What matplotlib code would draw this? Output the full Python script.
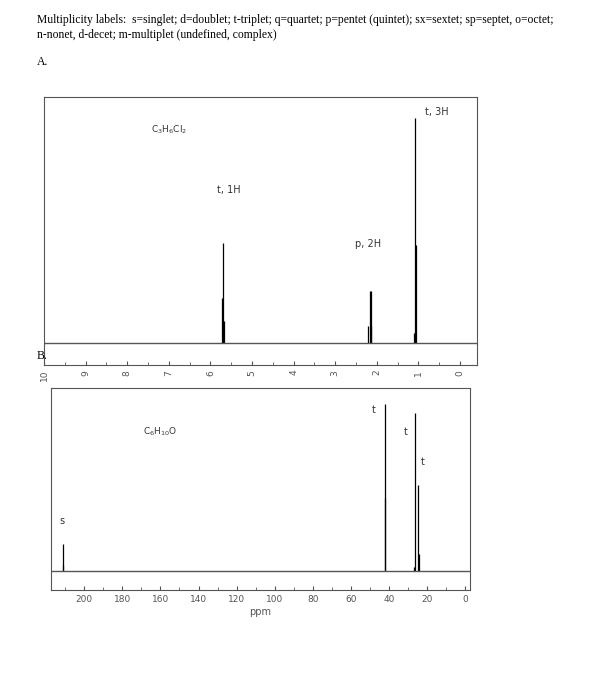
import matplotlib.pyplot as plt

# Panel A: 1H NMR of C3H6Cl2 (heights in arbitrary units above baseline)
a_shift = [5.73, 5.70, 5.68, 2.20, 2.17, 2.15, 2.13, 1.11, 1.08, 1.06]
a_height = [45, 100, 22, 17, 52, 52, 17, 10, 225, 98]
a_labels = ["t, 1H", "p, 2H", "t, 3H"]
a_label_pos = [(5.55, 150), (2.2, 96), (0.55, 228)]

# Panel B: 13C NMR of C6H10O
b_shift = [211.0, 211.3, 42.0, 42.3, 26.5, 27.0, 24.5, 24.2]
b_height = [85, 20, 528, 230, 500, 15, 272, 55]
b_labels = ["s", "t", "t", "t"]
b_label_pos = [(212, 150), (48, 500), (31, 430), (22, 335)]

header = ("Multiplicity labels:  s=singlet; d=doublet; t-triplet; q=quartet; p=pentet (quintet); sx=sextet; sp=septet, o=octet;\n"
          "n-nonet, d-decet; m-multiplet (undefined, complex)")

W, H = 602, 700
fig = plt.figure(figsize=(W / 100, H / 100), dpi=100)
serif = ["Liberation Serif", "DejaVu Serif"]
fig.text(37 / W, 1 - 14 / H, header, fontsize=8.4, family=serif, va="top", linespacing=1.35)
fig.text(37 / W, 1 - 62 / H, "A.", fontsize=8.5, family=serif, va="center")
fig.text(37 / W, 1 - 356 / H, "B.", fontsize=8.5, family=serif, va="center")

grey = "#555555"


def style(ax):
    ax.set_yticks([])
    for s in ax.spines.values():
        s.set_color(grey)
    ax.axhline(0, color=grey, lw=1)
    ax.tick_params(axis="x", direction="in", colors=grey, labelsize=6.5, length=3)
    ax.tick_params(axis="x", which="minor", direction="in", colors=grey, length=2)


axA = fig.add_axes([44 / W, 1 - 365 / H, 433 / W, 268 / H])
axA.vlines(a_shift, 0, a_height, color="black", lw=0.9)
axA.set_xlim(10.0, -0.41)
axA.set_ylim(-22, 246)
axA.set_xticks(range(0, 11))
axA.set_xticks([i + 0.5 for i in range(0, 10)], minor=True)
style(axA)
axA.tick_params(axis="x", labelrotation=90)
for t, (x, y) in zip(a_labels, a_label_pos):
    axA.text(x, y, t, fontsize=7, color="#333333", ha="center")
axA.text(7.0, 210, r"C$_3$H$_6$Cl$_2$", fontsize=6.5, color="#333333", ha="center")

axB = fig.add_axes([51 / W, 1 - 590 / H, 419 / W, 202 / H])
axB.vlines(b_shift, 0, b_height, color="black", lw=0.9)
axB.set_xlim(217.5, -2.6)
axB.set_ylim(-59, 578)
axB.set_xticks(range(0, 201, 20))
axB.set_xticks(range(10, 211, 20), minor=True)
style(axB)
axB.set_xlabel("ppm", fontsize=7, color=grey, labelpad=2)
for t, (x, y) in zip(b_labels, b_label_pos):
    axB.text(x, y, t, fontsize=7, color="#333333", ha="center")
axB.text(160, 430, r"C$_6$H$_{10}$O", fontsize=6.5, color="#333333", ha="center")

fig.savefig("out.png", dpi=100, facecolor="white")
